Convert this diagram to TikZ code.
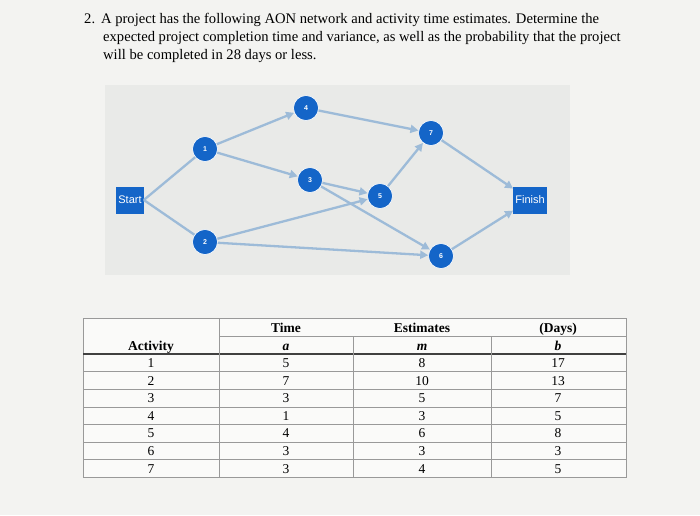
\documentclass[tikz,border=0pt]{standalone}
\usepackage{fontspec}
\setmainfont{Liberation Serif}
\newfontfamily\sansf{Liberation Sans}
\usetikzlibrary{arrows.meta}
\definecolor{nodeblue}{HTML}{1465C8}
\definecolor{edgeblue}{HTML}{9DBBD8}
\definecolor{pagebg}{HTML}{F3F3F1}
\definecolor{panelbg}{HTML}{E9EAE8}
\tikzset{
 x=1pt,y=-1pt,
 act/.style={circle,fill=nodeblue,draw=white,line width=0.6pt,minimum size=25pt,inner sep=0pt,text=white,font=\sansf\fontsize{7}{7}\selectfont\bfseries},
 endbox/.style={rectangle,fill=nodeblue,minimum height=27pt,inner sep=2pt,text=white,font=\sansf\fontsize{11}{11}\selectfont},
 edge/.style={draw=edgeblue,line width=2.3pt,-{Triangle[length=8pt,width=8pt]}},
 tline/.style={draw=gray!80,line width=0.5pt},
 cell/.style={font=\fontsize{13.5}{13.5}\selectfont,inner sep=0pt,anchor=base},
}
\begin{document}
\begin{tikzpicture}
\fill[pagebg] (0,0) rectangle (700,515);
\useasboundingbox (0,0) rectangle (700,515);
\node[anchor=north west,align=left,font=\fontsize{14.6}{17.8}\selectfont,inner sep=0pt] (title) at (84,13) {2.\hspace{6pt}A project has the following AON network and activity time estimates. Determine the\\
\hspace{19pt}expected project completion time and variance, as well as the probability that the project\\
\hspace{19pt}will be completed in 28 days or less.};
\fill[panelbg] (105,85) rectangle (570,275);
\node[endbox] (S) at (130,200) {Start};
\node[endbox] (F) at (530,200) {Finish};
\node[act] (n1) at (205,149) {1};
\node[act] (n2) at (205,242) {2};
\node[act] (n3) at (310,180) {3};
\node[act] (n4) at (306,108) {4};
\node[act] (n5) at (380,196) {5};
\node[act] (n6) at (441,256) {6};
\node[act] (n7) at (431,133) {7};
\draw[edge,-] (S.east) -- (n1);
\draw[edge,-] (S.east) -- (n2);
\draw[edge] (n1) -- (n4);
\draw[edge] (n1) -- (n3);
\draw[edge] (n4) -- (n7);
\draw[edge] (n3) -- (n5);
\draw[edge] (n3) -- (n6);
\draw[edge] (n2) -- (n5);
\draw[edge] (n2) -- (n6);
\draw[edge] (n5) -- (n7);
\draw[edge] (n7) -- (F);
\draw[edge] (n6) -- (F);
% table
\fill[white!60!pagebg] (83,318) rectangle (626,477);
\draw[tline] (83,318) rectangle (626,477);
\draw[tline] (219,336) -- (626,336);
\draw[line width=1.4pt,black!75] (83,354) -- (626,354);
\foreach \y in {371.6,389.2,406.8,424.4,442,459.6} \draw[tline] (83,\y) -- (626,\y);
\draw[tline] (219,318) -- (219,477);
\draw[tline] (353,336) -- (353,477);
\draw[tline] (491,336) -- (491,477);
\node[cell,font=\fontsize{13.5}{13.5}\selectfont\bfseries] (hT) at (286,332) {Time};
\node[cell,font=\fontsize{13.5}{13.5}\selectfont\bfseries] (hE) at (422,332) {Estimates};
\node[cell,font=\fontsize{13.5}{13.5}\selectfont\bfseries] (hD) at (558,332) {(Days)};
\node[cell,font=\fontsize{13.5}{13.5}\selectfont\bfseries] (hA) at (151,350) {Activity};
\node[cell,font=\fontsize{13.5}{13.5}\selectfont\bfseries\itshape] (ha) at (286,350) {a};
\node[cell,font=\fontsize{13.5}{13.5}\selectfont\bfseries\itshape] (hm) at (422,350) {m};
\node[cell,font=\fontsize{13.5}{13.5}\selectfont\bfseries\itshape] (hb) at (558,350) {b};
\foreach \i/\a/\m/\b [count=\k from 0] in {1/5/8/17,2/7/10/13,3/3/5/7,4/1/3/5,5/4/6/8,6/3/3/3,7/3/4/5}{
 \node[cell] (r\i c1) at (151,367.5+17.6*\k) {\i};
 \node[cell] (r\i c2) at (286,367.5+17.6*\k) {\a};
 \node[cell] (r\i c3) at (422,367.5+17.6*\k) {\m};
 \node[cell] (r\i c4) at (558,367.5+17.6*\k) {\b};
}
\end{tikzpicture}
\end{document}
